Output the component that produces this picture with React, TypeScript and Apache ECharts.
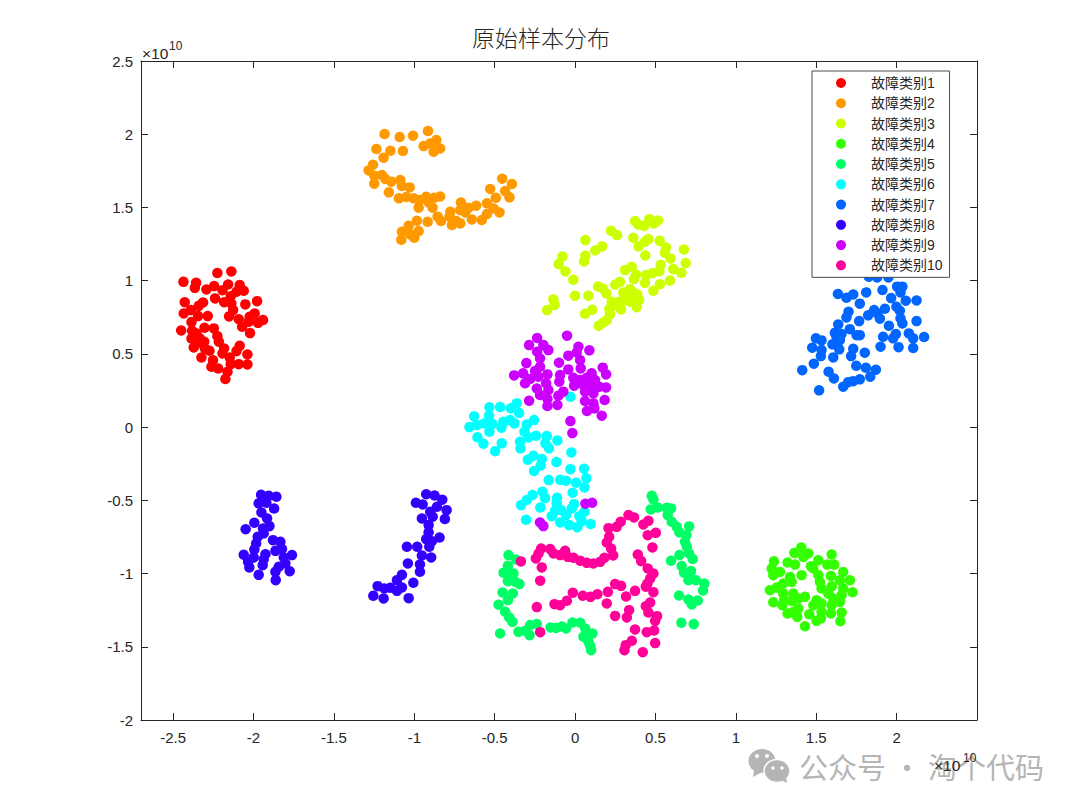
import React, { useEffect, useRef } from "react";
import * as echarts from "echarts";

// All values are in units of 1e10, as shown by the axis exponent.
const xTicks = [-2.5, -2, -1.5, -1, -0.5, 0, 0.5, 1, 1.5, 2];
const yTicks = [-2, -1.5, -1, -0.5, 0, 0.5, 1, 1.5, 2, 2.5];
const classNames = ["故障类别1","故障类别2","故障类别3","故障类别4","故障类别5","故障类别6","故障类别7","故障类别8","故障类别9","故障类别10"];
const classColors = ["#ff0000","#ff9900","#ccff00","#33ff00","#00ff66","#00ffff","#0066ff","#3300ff","#cc00ff","#ff0099"];

const class1 = [[-2.436,0.992],[-2.357,0.986],[-2.365,0.951],[-2.225,1.052],[-2.138,1.063],[-2.245,0.963],[-2.293,0.94],[-2.193,0.935],[-2.158,0.974],[-2.086,0.97],[-2.061,0.931],[-2.106,0.924],[-2.142,0.894],[-2.239,0.879],[-2.314,0.851],[-2.341,0.828],[-2.428,0.853],[-1.978,0.86],[-2.051,0.838],[-2.183,0.853],[-2.138,0.844],[-2.127,0.799],[-2.39,0.799],[-2.434,0.776],[-2.345,0.758],[-2.285,0.758],[-2.152,0.756],[-1.993,0.776],[-2.024,0.753],[-2.092,0.737],[-2.03,0.719],[-1.941,0.731],[-1.972,0.712],[-2.386,0.717],[-2.071,0.685],[-2.022,0.642],[-2.45,0.66],[-2.382,0.658],[-2.305,0.678],[-2.247,0.674],[-2.355,0.639],[-2.386,0.605],[-2.334,0.605],[-2.225,0.621],[-2.372,0.544],[-2.355,0.571],[-2.307,0.583],[-2.216,0.583],[-2.303,0.537],[-2.274,0.521],[-2.183,0.537],[-2.193,0.503],[-2.086,0.555],[-2.106,0.519],[-2.038,0.496],[-2.324,0.475],[-2.252,0.457],[-2.148,0.475],[-2.262,0.412],[-2.22,0.4],[-2.142,0.43],[-2.092,0.43],[-2.038,0.428],[-2.162,0.378],[-2.175,0.328]];
const class2 = [[-1.185,2.001],[-1.091,1.981],[-1.008,1.99],[-0.915,2.022],[-0.942,1.919],[-0.901,1.937],[-0.863,1.96],[-0.839,1.903],[-0.88,1.881],[-0.87,1.922],[-1.236,1.899],[-1.149,1.887],[-1.071,1.885],[-1.191,1.84],[-1.257,1.792],[-1.284,1.753],[-1.249,1.717],[-1.201,1.721],[-1.18,1.694],[-1.143,1.676],[-1.087,1.687],[-1.249,1.662],[-1.077,1.646],[-1.029,1.637],[-1.158,1.603],[-1.096,1.562],[-1.05,1.571],[-1.004,1.562],[-0.967,1.55],[-0.926,1.573],[-0.876,1.566],[-0.839,1.575],[-0.911,1.534],[-0.973,1.498],[-0.886,1.498],[-0.71,1.534],[-0.662,1.498],[-0.615,1.512],[-0.548,1.528],[-0.776,1.471],[-0.714,1.482],[-0.683,1.466],[-0.855,1.437],[-0.834,1.407],[-0.781,1.437],[-0.739,1.407],[-0.766,1.38],[-0.714,1.391],[-0.642,1.418],[-0.58,1.414],[-0.548,1.455],[-0.507,1.493],[-0.47,1.466],[-0.528,1.626],[-0.453,1.696],[-0.393,1.66],[-0.435,1.612],[-0.493,1.566],[-0.408,1.569],[-0.984,1.409],[-0.917,1.402],[-1.035,1.375],[-1.077,1.334],[-0.973,1.339],[-1.025,1.316],[-1.0,1.293],[-1.081,1.279]];
const class3 = [[0.373,1.407],[0.393,1.384],[0.429,1.373],[0.462,1.42],[0.491,1.391],[0.516,1.411],[0.223,1.341],[0.261,1.311],[0.362,1.293],[0.456,1.284],[0.435,1.266],[0.395,1.234],[0.526,1.272],[0.565,1.227],[0.559,1.19],[0.594,1.152],[0.677,1.213],[0.688,1.12],[0.437,1.172],[0.064,1.277],[0.168,1.234],[0.126,1.206],[0.064,1.17],[0.056,1.131],[-0.079,1.165],[-0.102,1.113],[-0.06,1.063],[-0.011,1.006],[-0.135,0.872],[-0.127,0.835],[-0.174,0.799],[0.0,0.897],[0.083,0.897],[0.143,0.96],[0.172,0.947],[0.194,0.913],[0.25,0.972],[0.279,0.992],[0.311,1.072],[0.352,1.095],[0.379,1.042],[0.366,1.011],[0.532,1.108],[0.524,1.065],[0.483,1.052],[0.443,1.038],[0.435,0.985],[0.528,0.976],[0.487,0.931],[0.59,1.001],[0.611,1.079],[0.661,1.054],[0.342,0.942],[0.3,0.919],[0.362,0.919],[0.387,0.906],[0.331,0.89],[0.398,0.867],[0.228,0.856],[0.275,0.856],[0.342,0.856],[0.213,0.806],[0.383,0.819],[0.286,0.803],[0.107,0.801],[0.062,0.774],[0.217,0.769],[0.197,0.73],[0.176,0.714],[0.147,0.692],[0.255,0.833],[0.311,0.867]];
const class4 = [[1.407,-0.822],[1.364,-0.859],[1.451,-0.863],[1.42,-0.886],[1.596,-0.87],[1.237,-0.916],[1.322,-0.925],[1.368,-0.939],[1.513,-0.909],[1.569,-0.939],[1.612,-0.939],[1.223,-0.966],[1.274,-0.989],[1.233,-1.011],[1.467,-0.95],[1.337,-1.023],[1.409,-1.011],[1.482,-0.966],[1.591,-1.016],[1.668,-0.989],[1.71,-1.046],[1.647,-1.046],[1.513,-1.011],[1.523,-1.057],[1.295,-1.068],[1.347,-1.057],[1.254,-1.096],[1.212,-1.114],[1.596,-1.087],[1.533,-1.102],[1.668,-1.102],[1.726,-1.128],[1.295,-1.137],[1.357,-1.137],[1.43,-1.159],[1.575,-1.137],[1.658,-1.148],[1.301,-1.182],[1.233,-1.196],[1.347,-1.187],[1.388,-1.171],[1.502,-1.182],[1.606,-1.171],[1.647,-1.194],[1.289,-1.216],[1.482,-1.216],[1.533,-1.205],[1.596,-1.216],[1.388,-1.239],[1.322,-1.273],[1.357,-1.262],[1.457,-1.278],[1.533,-1.262],[1.591,-1.273],[1.658,-1.266],[1.382,-1.296],[1.529,-1.307],[1.502,-1.323],[1.65,-1.326],[1.43,-1.36]];
const class5 = [[0.477,-0.469],[0.487,-0.494],[0.471,-0.562],[0.514,-0.549],[0.57,-0.551],[0.597,-0.555],[0.576,-0.601],[0.601,-0.646],[0.649,-0.719],[0.709,-0.678],[0.693,-0.738],[0.695,-0.817],[0.709,-0.863],[0.732,-0.901],[0.649,-0.874],[0.597,-0.913],[0.663,-0.949],[0.678,-0.995],[0.721,-0.983],[0.705,-1.045],[0.751,-1.045],[0.804,-1.068],[0.796,-1.116],[0.647,-1.15],[0.705,-1.177],[0.763,-1.184],[0.726,-1.211],[0.661,-1.336],[0.738,-1.345],[-0.414,-0.874],[-0.368,-0.904],[-0.418,-0.947],[-0.445,-0.995],[-0.414,-1.011],[-0.383,-1.0],[-0.418,-1.052],[-0.373,-1.056],[-0.346,-1.072],[-0.451,-1.129],[-0.387,-1.136],[-0.418,-1.182],[-0.476,-1.213],[-0.435,-1.261],[-0.41,-1.3],[-0.389,-1.33],[-0.466,-1.409],[-0.352,-1.398],[-0.31,-1.391],[-0.279,-1.352],[-0.238,-1.345],[-0.283,-1.421],[-0.153,-1.368],[-0.118,-1.371],[-0.082,-1.361],[-0.056,-1.375],[-0.016,-1.334],[0.032,-1.336],[0.063,-1.375],[0.108,-1.409],[0.052,-1.432],[0.083,-1.466],[0.094,-1.494],[0.1,-1.523],[0.632,-0.681],[0.684,-0.783]];
const class6 = [[-0.029,0.207],[-0.533,0.135],[-0.466,0.137],[-0.4,0.128],[-0.363,0.162],[-0.348,0.096],[-0.628,0.073],[-0.535,0.078],[-0.657,0.0],[-0.611,0.014],[-0.566,0.025],[-0.514,0.021],[-0.446,0.037],[-0.404,0.048],[-0.377,0.025],[-0.458,-0.004],[-0.533,-0.032],[-0.607,-0.07],[-0.57,-0.114],[-0.456,-0.111],[-0.497,-0.164],[-0.255,0.048],[-0.301,0.018],[-0.315,-0.032],[-0.29,-0.07],[-0.243,-0.059],[-0.342,-0.1],[-0.34,-0.145],[-0.176,-0.061],[-0.185,-0.111],[-0.162,-0.145],[-0.11,-0.091],[-0.023,-0.173],[-0.259,-0.196],[-0.294,-0.223],[-0.207,-0.218],[-0.214,-0.262],[-0.255,-0.3],[-0.116,-0.239],[-0.029,-0.287],[0.056,-0.284],[0.07,-0.35],[-0.164,-0.362],[-0.093,-0.36],[-0.056,-0.366],[0.006,-0.38],[0.058,-0.412],[-0.203,-0.441],[-0.015,-0.448],[-0.187,-0.485],[-0.265,-0.464],[-0.301,-0.498],[-0.336,-0.533],[-0.112,-0.483],[-0.114,-0.521],[-0.216,-0.549],[-0.006,-0.526],[-0.021,-0.555],[-0.087,-0.567],[-0.124,-0.571],[0.058,-0.578],[-0.145,-0.608],[-0.056,-0.601],[0.027,-0.608],[-0.305,-0.633],[-0.093,-0.651],[-0.037,-0.669],[0.014,-0.683],[0.041,-0.642],[0.097,-0.662]];
const class7 = [[1.827,1.027],[1.879,1.022],[1.949,1.022],[2.003,0.959],[2.036,0.959],[1.635,0.909],[1.688,0.883],[1.73,0.906],[1.811,0.92],[1.912,0.936],[1.771,0.843],[1.966,0.881],[2.024,0.92],[2.057,0.863],[2.124,0.865],[1.701,0.788],[1.688,0.749],[1.999,0.822],[2.02,0.795],[1.927,0.808],[1.86,0.799],[1.823,0.763],[1.881,0.776],[1.896,0.74],[1.767,0.724],[1.637,0.701],[2.024,0.742],[2.036,0.708],[2.124,0.724],[1.952,0.692],[1.709,0.669],[1.616,0.644],[1.657,0.635],[1.751,0.628],[1.771,0.628],[1.626,0.617],[2.076,0.64],[1.995,0.635],[1.978,0.606],[1.916,0.617],[2.103,0.606],[2.171,0.615],[1.498,0.606],[1.533,0.592],[1.647,0.594],[1.601,0.565],[1.475,0.542],[1.533,0.526],[1.643,0.531],[1.73,0.535],[1.529,0.485],[1.606,0.476],[1.717,0.485],[1.802,0.508],[1.9,0.549],[2.012,0.546],[2.103,0.54],[1.485,0.433],[1.413,0.389],[1.577,0.378],[1.61,0.332],[1.749,0.419],[1.809,0.405],[1.871,0.392],[1.836,0.344],[1.771,0.326],[1.73,0.314],[1.699,0.307],[1.668,0.276],[1.518,0.251]];
const class8 = [[-1.953,-0.462],[-1.906,-0.469],[-1.858,-0.476],[-1.968,-0.521],[-1.92,-0.517],[-1.872,-0.556],[-1.951,-0.583],[-1.916,-0.624],[-1.995,-0.653],[-2.049,-0.697],[-1.901,-0.676],[-1.941,-0.692],[-1.937,-0.726],[-1.974,-0.749],[-1.984,-0.795],[-1.879,-0.772],[-1.833,-0.783],[-1.995,-0.836],[-2.061,-0.872],[-1.864,-0.845],[-1.823,-0.833],[-1.926,-0.868],[-1.761,-0.874],[-1.937,-0.904],[-1.999,-0.89],[-2.034,-0.92],[-2.026,-0.959],[-1.943,-0.943],[-1.812,-0.89],[-1.802,-0.931],[-1.843,-0.954],[-1.864,-0.988],[-1.775,-0.984],[-1.968,-1.009],[-1.862,-1.045],[-0.926,-0.458],[-0.874,-0.467],[-0.826,-0.496],[-0.99,-0.517],[-0.948,-0.528],[-0.859,-0.544],[-0.901,-0.578],[-0.799,-0.567],[-0.886,-0.612],[-0.953,-0.624],[-0.81,-0.628],[-0.911,-0.669],[-0.911,-0.719],[-0.843,-0.754],[-0.926,-0.765],[-0.89,-0.779],[-0.907,-0.817],[-1.046,-0.817],[-0.982,-0.817],[-0.953,-0.877],[-0.895,-0.89],[-1.04,-0.931],[-0.965,-0.938],[-0.965,-0.988],[-1.077,-1.009],[-1.108,-1.045],[-1.006,-1.063],[-1.077,-1.095],[-1.108,-1.118],[-1.149,-1.097],[-1.187,-1.102],[-1.228,-1.086],[-1.255,-1.152],[-1.191,-1.17],[-1.035,-1.168]];
const class9 = [[-0.05,0.624],[-0.236,0.608],[-0.286,0.56],[-0.197,0.56],[-0.166,0.526],[-0.236,0.515],[0.021,0.549],[0.089,0.524],[0.01,0.51],[-0.042,0.488],[-0.218,0.469],[0.031,0.458],[-0.303,0.437],[-0.1,0.44],[-0.218,0.412],[-0.042,0.394],[0.035,0.401],[0.172,0.406],[0.193,0.36],[-0.249,0.383],[-0.323,0.367],[-0.379,0.353],[-0.172,0.36],[-0.093,0.355],[0.103,0.367],[-0.011,0.337],[0.031,0.321],[0.072,0.337],[0.124,0.321],[-0.228,0.344],[-0.28,0.328],[-0.311,0.299],[-0.18,0.299],[-0.098,0.31],[-0.006,0.283],[0.048,0.292],[0.103,0.287],[0.151,0.276],[0.193,0.271],[-0.238,0.264],[-0.166,0.253],[-0.073,0.242],[-0.104,0.214],[-0.218,0.219],[0.062,0.242],[0.114,0.23],[-0.286,0.18],[-0.172,0.192],[0.062,0.178],[0.184,0.185],[0.114,0.162],[-0.172,0.144],[-0.11,0.151],[0.074,0.11],[0.12,0.128],[0.166,0.078],[-0.029,0.041],[-0.017,-0.041],[0.064,-0.523],[0.106,-0.517],[-0.218,-0.651],[-0.197,-0.676]];
const class10 = [[-0.337,-0.917],[-0.211,-0.829],[-0.244,-0.897],[-0.227,-0.863],[-0.155,-0.833],[-0.134,-0.863],[-0.093,-0.874],[-0.062,-0.845],[-0.045,-0.886],[-0.01,-0.892],[0.032,-0.913],[0.073,-0.927],[0.114,-0.931],[0.156,-0.92],[0.183,-0.892],[0.237,-0.876],[0.224,-0.829],[0.197,-0.788],[0.212,-0.749],[0.208,-0.69],[0.259,-0.681],[0.284,-0.646],[0.332,-0.601],[0.367,-0.617],[0.425,-0.665],[0.456,-0.64],[0.452,-0.738],[0.502,-0.722],[0.481,-0.822],[0.39,-0.87],[0.411,-0.915],[0.452,-0.965],[0.487,-1.0],[0.467,-1.034],[0.45,-1.068],[0.44,-1.09],[0.487,-1.127],[-0.207,-0.958],[-0.217,-1.049],[-0.238,-1.229],[-0.128,-1.209],[-0.093,-1.216],[-0.051,-1.186],[-0.014,-1.131],[0.048,-1.152],[0.096,-1.159],[0.139,-1.141],[0.204,-1.125],[0.249,-1.072],[0.286,-1.084],[0.373,-1.118],[0.317,-1.157],[0.197,-1.204],[0.467,-1.198],[0.44,-1.223],[0.456,-1.266],[0.336,-1.25],[0.322,-1.3],[0.249,-1.289],[0.51,-1.291],[0.498,-1.323],[0.373,-1.382],[0.492,-1.389],[0.446,-1.4],[-0.217,-1.4],[0.353,-1.459],[0.315,-1.489],[0.307,-1.523],[0.498,-1.475],[0.421,-1.537]];

const classes = [class1, class2, class3, class4, class5, class6, class7, class8, class9, class10];

const INK = "#262626";
const LATIN = '"Liberation Sans", Arial, sans-serif';
const CJK = '"Noto Sans CJK SC", sans-serif';
const MIXED = '"Liberation Sans", "Noto Sans CJK SC", sans-serif';
const MARK = "#b5b5b5";

function makeAxis(position: string, min: number, max: number, ticks: number[], labelled: boolean, margin: number) {
  return {
    type: "value",
    position,
    min,
    max,
    splitLine: { show: false },
    axisLine: { show: true, onZero: false, lineStyle: { color: INK, width: 1 } },
    axisTick: { show: true, inside: true, length: 7, customValues: ticks, lineStyle: { color: INK, width: 1 } },
    axisLabel: labelled
      ? { show: true, customValues: ticks, color: INK, fontFamily: LATIN, fontSize: 15, margin }
      : { show: false },
  };
}

export default function App() {
  const ref = useRef<HTMLDivElement>(null);
  useEffect(() => {
    if (!ref.current) return;
    const chart = echarts.init(ref.current, undefined, { renderer: "svg" });
    chart.setOption({
      animation: false,
      backgroundColor: "#fff",
      title: {
        text: "原始样本分布",
        left: 536,
        top: 20,
        textAlign: "center",
        textStyle: { fontFamily: CJK, fontSize: 23, fontWeight: 300, color: INK },
      },
      grid: { left: 141, right: 103, top: 61, bottom: 90, containLabel: false },
      xAxis: [
        makeAxis("bottom", -2.7, 2.5, xTicks, true, 10),
        makeAxis("top", -2.7, 2.5, xTicks, false, 0),
      ],
      yAxis: [
        makeAxis("left", -2, 2.5, yTicks, true, 8),
        makeAxis("right", -2, 2.5, yTicks, false, 0),
      ],
      legend: {
        show: true,
        orient: "vertical",
        left: 812,
        top: 71,
        data: classNames,
        selectedMode: false,
        icon: "circle",
        itemWidth: 50,
        itemHeight: 10,
        itemGap: 6.26,
        padding: [5, 7, 5, 24],
        backgroundColor: "#fff",
        borderColor: "#4a4a4a",
        borderWidth: 1,
        textStyle: { fontFamily: MIXED, fontSize: 14, lineHeight: 14, color: INK },
      },
      series: classes.map((data, i) => ({
        name: classNames[i],
        type: "scatter",
        data,
        symbol: "circle",
        symbolSize: 10.5,
        itemStyle: { color: classColors[i], opacity: 1 },
        emphasis: { disabled: true },
      })),
      graphic: [
        { type: "ellipse", silent: true, z: 50, shape: { cx: 762, cy: 761, rx: 13.5, ry: 12 }, style: { fill: MARK } },
        { type: "polygon", silent: true, z: 50, shape: { points: [[754, 770], [753, 777], [762, 772]] }, style: { fill: MARK } },
        { type: "ellipse", silent: true, z: 51, shape: { cx: 777, cy: 771, rx: 13, ry: 11.5 }, style: { fill: MARK, stroke: "#fff", lineWidth: 1.5 } },
        { type: "polygon", silent: true, z: 51, shape: { points: [[781, 780], [787, 783], [786, 777]] }, style: { fill: MARK } },
        { type: "circle", silent: true, z: 52, shape: { cx: 757, cy: 756, r: 2 }, style: { fill: "#fff" } },
        { type: "circle", silent: true, z: 52, shape: { cx: 767, cy: 756, r: 2 }, style: { fill: "#fff" } },
        { type: "circle", silent: true, z: 52, shape: { cx: 773, cy: 768, r: 1.7 }, style: { fill: "#fff" } },
        { type: "circle", silent: true, z: 52, shape: { cx: 782, cy: 768, r: 1.7 }, style: { fill: "#fff" } },
        { type: "text", silent: true, z: 50, x: 799, y: 766, style: { text: "公众号 · 淘个代码", fontFamily: CJK, fontSize: 29, fill: MARK, textVerticalAlign: "middle", textAlign: "left" } },
        { type: "text", silent: true, z: 60, x: 142, y: 53, style: { text: "×10", fontFamily: LATIN, fontSize: 15.5, fill: INK, textVerticalAlign: "middle" } },
        { type: "text", silent: true, z: 60, x: 169, y: 46, style: { text: "10", fontFamily: LATIN, fontSize: 12, fill: INK, textVerticalAlign: "middle" } },
        { type: "text", silent: true, z: 60, x: 934, y: 765, style: { text: "×10", fontFamily: LATIN, fontSize: 15.5, fill: INK, textVerticalAlign: "middle" } },
        { type: "text", silent: true, z: 60, x: 963, y: 758, style: { text: "10", fontFamily: LATIN, fontSize: 12, fill: INK, textVerticalAlign: "middle" } },
      ],
    });
    return () => chart.dispose();
  }, []);
  return <div ref={ref} style={{ position: "fixed", left: 0, top: 0, width: 1080, height: 810 }} />;
}
